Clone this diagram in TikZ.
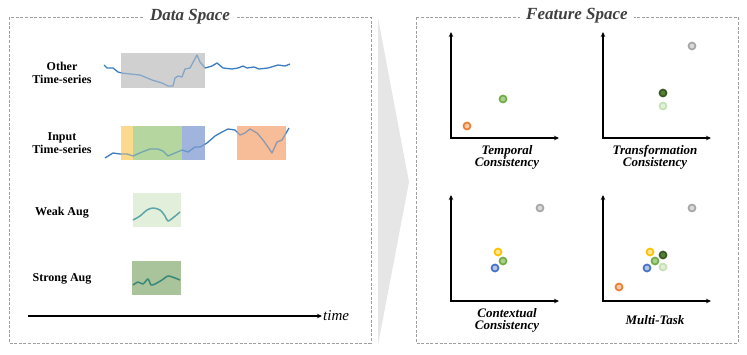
\documentclass[tikz,border=0pt]{standalone}
\usepackage{fontspec}
\setmainfont{Liberation Serif}
\usetikzlibrary{arrows.meta, positioning, calc}

\definecolor{darktext}{HTML}{404040}
\definecolor{lineblue}{HTML}{3A7DBF}
\definecolor{boxgray}{HTML}{D0D0D0}
\definecolor{segyellow}{HTML}{FCD98C}
\definecolor{seggreen}{HTML}{B6D6A0}
\definecolor{segblue}{HTML}{A0B4DE}
\definecolor{segorange}{HTML}{F6BD98}
\definecolor{weakfill}{HTML}{E2EFDA}
\definecolor{weakline}{HTML}{5DA5A8}
\definecolor{strongfill}{HTML}{A9C39A}
\definecolor{strongline}{HTML}{3A8878}
\definecolor{chevgray}{HTML}{E6E6E6}
% embedding colours (ring / centre)
\definecolor{grnring}{HTML}{70AD47}\definecolor{grnfill}{HTML}{A9D18E}
\definecolor{orgring}{HTML}{ED7D31}\definecolor{orgfill}{HTML}{F8CBAD}
\definecolor{gryring}{HTML}{A6A6A6}\definecolor{gryfill}{HTML}{D9D9D9}
\definecolor{dkgring}{HTML}{385723}\definecolor{dkgfill}{HTML}{548235}
\definecolor{ltgring}{HTML}{C5E0B4}\definecolor{ltgfill}{HTML}{E2F0D9}
\definecolor{ylwring}{HTML}{FFC000}\definecolor{ylwfill}{HTML}{FFE699}
\definecolor{bluring}{HTML}{4472C4}\definecolor{blufill}{HTML}{B4C7E7}

\begin{document}
\begin{tikzpicture}[
    x=1pt, y=-1pt,
    panel/.style={draw=gray!75, dash pattern=on 3pt off 1.6pt, line width=0.8pt},
    title/.style={fill=white, inner xsep=6pt, text=darktext, font=\fontsize{17}{20}\selectfont\bfseries\itshape},
    lbl/.style={align=center, font=\fontsize{12}{13}\selectfont\bfseries},
    axlbl/.style={align=center, font=\fontsize{13}{12.5}\selectfont\bfseries\itshape},
    series/.style={line width=1.3pt, line join=round},
    axis/.style={{Stealth[length=5pt, width=4.5pt]}-{Stealth[length=5pt, width=4.5pt]}, line width=1.3pt},
    dot/.style={circle, draw=#1ring, fill=#1fill, line width=1.7pt, minimum size=7pt, inner sep=0pt}
]
\useasboundingbox (0,0) rectangle (747,354);

% Chevron between panels
\fill[chevgray] (378,18) -- (409,182) -- (378,345) -- cycle;

% Panels
\draw[panel] (9,17) rectangle (371,343);
\draw[panel] (416,17) rectangle (738,343);
\node[title] (dtitle) at (190,17) {Data Space};
\node[title] (ftitle) at (577,16) {Feature Space};

% Row labels
\node[lbl] (other) at (62,72.5) {Other\\Time-series};
\node[lbl] (input) at (62,143) {Input\\Time-series};
\node[lbl] (weak) at (62,213) {Weak Aug};
\node[lbl] (strong) at (62,279) {Strong Aug};

% Other time-series
\fill[boxgray] (121,53) rectangle (205,88);
\draw[series, lineblue] plot coordinates {(104,65) (107,68) (113,68) (118,72) (122,73) (130,74) (140,75) (152,80) (162,83) (168,86) (173,86) (175,78) (178,76) (182,77) (185,69) (190,68) (197,55) (200,62) (205,68) (212,66) (217,63) (223,68) (232,69) (238,68) (243,66) (247,68) (254,67) (259,69) (268,68) (278,65) (285,66) (290,64)};
\fill[boxgray, fill opacity=0.5] (121,53) rectangle (205,88);

% Input time-series
\fill[segyellow] (121,126) rectangle (133,160);
\fill[seggreen] (133,126) rectangle (182,160);
\fill[segblue] (182,126) rectangle (205,160);
\fill[segorange] (237,126) rectangle (286,160);
\draw[series, lineblue] plot coordinates {(105,158) (113,153) (120,154) (127,154) (133,156) (142,152) (150,149) (158,149) (163,151) (168,156) (175,153) (182,150) (188,152) (195,147) (200,147) (207,143) (215,136) (222,132) (228,129) (235,130) (240,135) (245,133) (250,129) (257,133) (263,140) (268,147) (272,153) (277,142) (282,140) (289,128)};
\fill[segyellow, fill opacity=0.45] (121,126) rectangle (133,160);
\fill[seggreen, fill opacity=0.45] (133,126) rectangle (182,160);
\fill[segblue, fill opacity=0.45] (182,126) rectangle (205,160);
\fill[segorange, fill opacity=0.45] (237,126) rectangle (286,160);

% Augmentations
\fill[weakfill] (133,193) rectangle (181,227);
\draw[series, weakline, line width=1.5pt] plot[smooth, tension=0.5] coordinates {(133,220) (140,216) (147,210) (153,208) (160,210) (165,216) (168,221) (174,217) (180,212)};
\fill[strongfill] (132,261) rectangle (181,295);
\draw[series, strongline, line width=1.5pt] plot[smooth, tension=0.4] coordinates {(133,285) (138,282) (143,284) (148,279) (151,285) (155,284) (162,280) (168,276) (175,278) (180,280)};

% Time axis
\coordinate (t0) at (28,316);
\node[anchor=west, inner sep=1pt, font=\fontsize{15}{15}\selectfont\itshape] (time) at (322,316) {time};
\draw[-{Stealth[length=5pt, width=4.5pt]}, line width=1.3pt] (t0) -- (time.west);

% Feature space axes
\foreach \ox/\oy/\nm in {451/138/a, 603/138/b, 451/301/c, 603/301/d} {
    \coordinate (o\nm) at (\ox,\oy);
    \coordinate (y\nm) at (\ox,\oy-106);
    \coordinate (x\nm) at (\ox+108,\oy);
    \draw[axis] (y\nm) -- (o\nm) -- (x\nm);
}
\node[axlbl] (la) at ($(oa)+(56,19.5)$) {Temporal\\Consistency};
\node[axlbl] (lb) at ($(ob)+(52,19.5)$) {Transformation\\Consistency};
\node[axlbl] (lc) at ($(oc)+(56,19.5)$) {Contextual\\Consistency};
\node[axlbl] (ld) at ($(od)+(52,19.5)$) {Multi-Task};

% Embeddings
\node[dot=grn] (ag) at (503,99) {};
\node[dot=org] (ao) at (467,126) {};

\node[dot=gry] (bgr) at (692,46) {};
\node[dot=dkg] (bdg) at (663,93) {};
\node[dot=ltg] (blg) at (663,106) {};

\node[dot=gry] (cgr) at (540,208) {};
\node[dot=ylw] (cy) at (498,252) {};
\node[dot=grn] (cg) at (503,261) {};
\node[dot=blu] (cb) at (495,268) {};

\node[dot=gry] (dgr) at (692,208) {};
\node[dot=ylw] (dy) at (650,252) {};
\node[dot=dkg] (ddg) at (663,255) {};
\node[dot=grn] (dg) at (655,261) {};
\node[dot=blu] (db) at (647,268) {};
\node[dot=ltg] (dlg) at (663,267) {};
\node[dot=org] (do) at (619,287) {};
\end{tikzpicture}
\end{document}
